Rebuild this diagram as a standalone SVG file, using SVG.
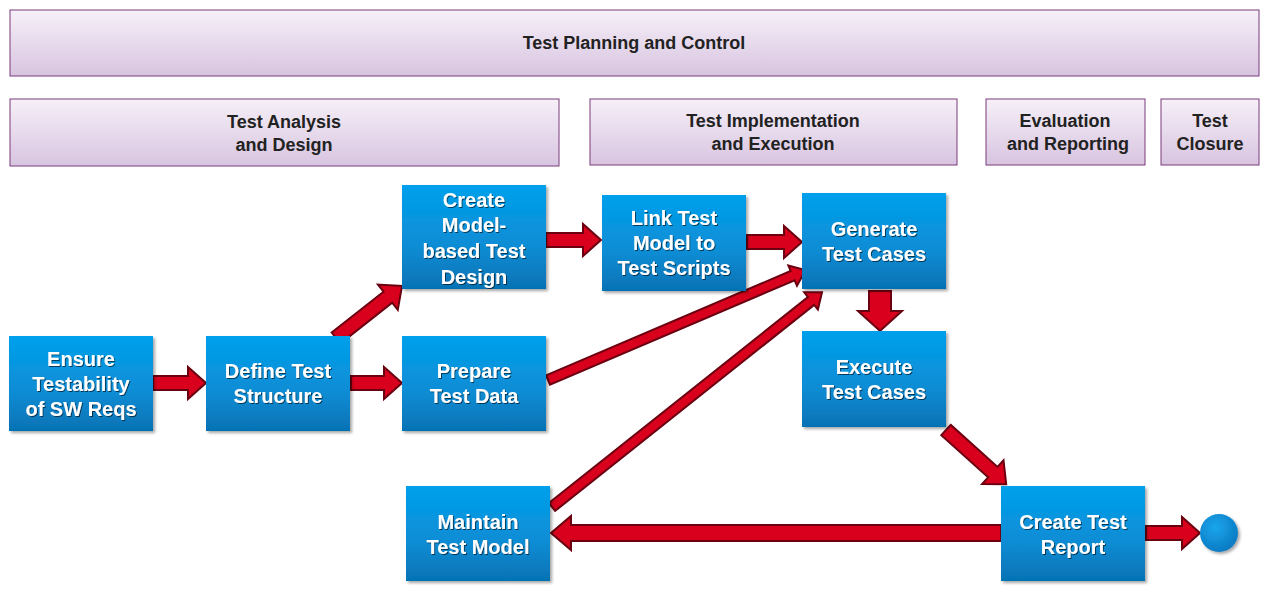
<svg xmlns="http://www.w3.org/2000/svg" width="1265" height="593" viewBox="0 0 1265 593">
<defs>
<linearGradient id="pg" x1="0" y1="0" x2="0" y2="1"><stop offset="0" stop-color="#f6f0f8"/><stop offset="1" stop-color="#d8c4e0"/></linearGradient>
<linearGradient id="bg" x1="0" y1="0" x2="0" y2="1"><stop offset="0" stop-color="#03a0ec"/><stop offset="0.6" stop-color="#0a8cd4"/><stop offset="1" stop-color="#0672b4"/></linearGradient>
<radialGradient id="cg" cx="0.4" cy="0.35" r="0.7"><stop offset="0" stop-color="#1aa6ec"/><stop offset="1" stop-color="#0a78c0"/></radialGradient>
<filter id="sh" x="-10%" y="-10%" width="130%" height="130%"><feDropShadow dx="2" dy="2" stdDeviation="1.5" flood-color="#000" flood-opacity="0.35"/></filter>
<filter id="ts"><feDropShadow dx="1" dy="1" stdDeviation="0.6" flood-color="#000" flood-opacity="0.6"/></filter>
</defs>
<style>
.p{fill:url(#pg);stroke:#7a3a7a;stroke-width:1}
.pt{font-family:"Liberation Sans",Arial,sans-serif;font-weight:bold;font-size:18px;fill:#222;text-anchor:middle}
.b{fill:url(#bg);filter:url(#sh)}
.bt{font-family:"Liberation Sans",Arial,sans-serif;font-weight:bold;font-size:20px;fill:#fff;text-anchor:middle;filter:url(#ts)}
.a{fill:#d8001c;stroke:#6a0010;stroke-width:2;stroke-linejoin:miter}
</style>
<g id="planning"><rect class="p" x="10" y="10" width="1249" height="66"/><text class="pt" x="634" y="49">Test Planning and Control</text></g>
<g id="analysis"><rect class="p" x="10" y="99" width="549" height="67"/><text class="pt" x="284" y="128">Test Analysis</text><text class="pt" x="284" y="151">and Design</text></g>
<g id="implementation"><rect class="p" x="590" y="99" width="367" height="66"/><text class="pt" x="773" y="127">Test Implementation</text><text class="pt" x="773" y="150">and Execution</text></g>
<g id="evaluation"><rect class="p" x="986" y="99" width="159" height="66"/><text class="pt" x="1065" y="127">Evaluation</text><text class="pt" x="1068" y="150">and Reporting</text></g>
<g id="closure"><rect class="p" x="1161" y="99" width="98" height="66"/><text class="pt" x="1210" y="127">Test</text><text class="pt" x="1210" y="150">Closure</text></g>

<g id="connectors">
<polygon class="a" transform="translate(153,383)" points="0,-7 35,-7 35,-16 53,0 35,16 35,7 0,7"/>
<polygon class="a" transform="translate(351,383)" points="0,-7 33,-7 33,-16 51,0 33,16 33,7 0,7"/>
<polygon class="a" transform="translate(336,338) rotate(-38.2)" points="0,-7 66,-7 66,-16 84,0 66,16 66,7 0,7"/>
<polygon class="a" transform="translate(546,240)" points="0,-7 37,-7 37,-16 55,0 37,16 37,7 0,7"/>
<polygon class="a" transform="translate(747,242)" points="0,-7 37,-7 37,-16 55,0 37,16 37,7 0,7"/>
<polygon class="a" transform="translate(548,380) rotate(-23.1)" points="0,-5 266,-5 266,-11 280,0 266,11 266,5 0,5"/>
<polygon class="a" transform="translate(552,507) rotate(-38.5)" points="0,-5 331,-5 331,-11 345,0 331,11 331,5 0,5"/>
<polygon class="a" transform="translate(880,291) rotate(90)" points="0,-11 20,-11 20,-22 40,0 20,22 20,11 0,11"/>
<polygon class="a" transform="translate(946,430) rotate(42)" points="0,-7 63,-7 63,-16 81,0 63,16 63,7 0,7"/>
<polygon class="a" transform="translate(1001,533) rotate(180)" points="0,-8 430,-8 430,-17 450,0 430,17 430,8 0,8"/>
<polygon class="a" transform="translate(1146,533)" points="0,-7 36,-7 36,-16 54,0 36,16 36,7 0,7"/>
</g>

<g id="ensure"><rect class="b" x="9" y="336" width="144" height="95"/><text class="bt" x="81" y="366">Ensure</text><text class="bt" x="81" y="391">Testability</text><text class="bt" x="81" y="416">of SW Reqs</text></g>
<g id="define"><rect class="b" x="206" y="336" width="144" height="95"/><text class="bt" x="278" y="378">Define Test</text><text class="bt" x="278" y="403">Structure</text></g>
<g id="create"><rect class="b" x="402" y="185" width="144" height="104"/><text class="bt" x="474" y="207">Create</text><text class="bt" x="474" y="232">Model-</text><text class="bt" x="474" y="258">based Test</text><text class="bt" x="474" y="284">Design</text></g>
<g id="prepare"><rect class="b" x="402" y="336" width="144" height="95"/><text class="bt" x="474" y="378">Prepare</text><text class="bt" x="474" y="403">Test Data</text></g>
<g id="link"><rect class="b" x="602" y="195" width="144" height="96"/><text class="bt" x="674" y="225">Link Test</text><text class="bt" x="674" y="250">Model to</text><text class="bt" x="674" y="275">Test Scripts</text></g>
<g id="generate"><rect class="b" x="802" y="193" width="144" height="96"/><text class="bt" x="874" y="236">Generate</text><text class="bt" x="874" y="261">Test Cases</text></g>
<g id="execute"><rect class="b" x="802" y="331" width="144" height="96"/><text class="bt" x="874" y="374">Execute</text><text class="bt" x="874" y="399">Test Cases</text></g>
<g id="maintain"><rect class="b" x="406" y="486" width="144" height="95"/><text class="bt" x="478" y="529">Maintain</text><text class="bt" x="478" y="554">Test Model</text></g>
<g id="report"><rect class="b" x="1001" y="486" width="144" height="95"/><text class="bt" x="1073" y="529">Create Test</text><text class="bt" x="1073" y="554">Report</text></g>
<g id="end"><circle cx="1219" cy="533" r="19" fill="url(#cg)" filter="url(#sh)"/></g>
</svg>
